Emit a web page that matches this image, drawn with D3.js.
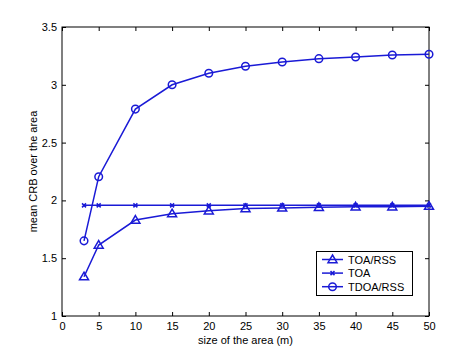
<!DOCTYPE html>
<html><head><meta charset="utf-8">
<script src="https://cdn.jsdelivr.net/npm/d3@7"></script>
<style>body{margin:0;background:#fff}svg{display:block}text{font-family:"Liberation Sans",Arial,sans-serif;fill:#000}</style>
</head><body><svg id="c" width="474" height="355"></svg>
<script>
const xVals = [3, 5, 10, 15, 20, 25, 30, 35, 40, 45, 50];
const toaRss = [1.34, 1.614, 1.83, 1.885, 1.91, 1.93, 1.935, 1.94, 1.945, 1.945, 1.95];
const toa = [1.957, 1.957, 1.957, 1.957, 1.957, 1.957, 1.957, 1.957, 1.957, 1.957, 1.957];
const tdoaRss = [1.65, 2.205, 2.79, 3.0, 3.10, 3.16, 3.197, 3.226, 3.24, 3.258, 3.264];
const xTicks = [0, 5, 10, 15, 20, 25, 30, 35, 40, 45, 50];
const yTicks = [1, 1.5, 2, 2.5, 3, 3.5];
const seriesNames = ["TOA/RSS", "TOA", "TDOA/RSS"];

const svg = d3.select("#c");
const L = 62, R = 429, T = 27, B = 316;
const x = d3.scaleLinear().domain([0, 50]).range([L, R]);
const y = d3.scaleLinear().domain([1, 3.5]).range([B, T]);
const col = "#1a1ad6";
const lw = 1.5;

// box
svg.append("rect").attr("x", L).attr("y", T).attr("width", R - L).attr("height", B - T)
  .attr("fill", "none").attr("stroke", "#000").attr("stroke-width", 1);

// axes
const xa = svg.append("g").attr("transform", `translate(0,${B})`)
  .call(d3.axisBottom(x).tickValues(xTicks).tickSize(-4).tickPadding(6).tickFormat(d3.format("d")));
const xt = svg.append("g").attr("transform", `translate(0,${T})`)
  .call(d3.axisTop(x).tickValues(xTicks).tickSize(-4).tickFormat(""));
const ya = svg.append("g").attr("transform", `translate(${L},0)`)
  .call(d3.axisLeft(y).tickValues(yTicks).tickSize(-4).tickPadding(5).tickFormat(d => d3.format("")(d)));
const yr = svg.append("g").attr("transform", `translate(${R},0)`)
  .call(d3.axisRight(y).tickValues(yTicks).tickSize(-4).tickFormat(""));
[xa, xt, ya, yr].forEach(g => {
  g.select(".domain").remove();
  g.selectAll("line").attr("stroke", "#000");
  g.selectAll("text").attr("font-size", 11).attr("fill", "#000")
    .style("font-family", '"Liberation Sans",Arial,sans-serif');
});

svg.append("text").attr("x", (L + R) / 2).attr("y", 344).attr("text-anchor", "middle")
  .attr("font-size", 11).text("size of the area (m)");
svg.append("text").attr("transform", `translate(37,${(T + B) / 2}) rotate(-90)`)
  .attr("text-anchor", "middle").attr("font-size", 11).text("mean CRB over the area");

const line = d3.line().x(d => x(d[0])).y(d => y(d[1]));
const data = [toaRss, toa, tdoaRss].map(s => xVals.map((v, i) => [v, s[i]]));

function marker(g, type, cx, cy) {
  if (type === 0) {
    const s = 4.5;
    g.append("path").attr("d", `M${cx},${cy - s}L${cx + s},${cy + s * 0.7}L${cx - s},${cy + s * 0.7}Z`)
      .attr("fill", "none").attr("stroke", col).attr("stroke-width", lw);
  } else if (type === 1) {
    const s = 2;
    g.append("path").attr("d", `M${cx - s},${cy - s}L${cx + s},${cy + s}M${cx - s},${cy + s}L${cx + s},${cy - s}`)
      .attr("stroke", col).attr("stroke-width", lw);
  } else {
    g.append("circle").attr("cx", cx).attr("cy", cy).attr("r", 3.8)
      .attr("fill", "none").attr("stroke", col).attr("stroke-width", lw);
  }
}

data.forEach((d, k) => {
  svg.append("path").datum(d).attr("d", line).attr("fill", "none")
    .attr("stroke", col).attr("stroke-width", lw);
  const g = svg.append("g");
  d.forEach(p => marker(g, k, x(p[0]), y(p[1])));
});

// legend
const lg = svg.append("g");
lg.append("rect").attr("x", 316.5).attr("y", 251.5).attr("width", 96).attr("height", 44)
  .attr("fill", "#fff").attr("stroke", "#000").attr("stroke-width", 1);
seriesNames.forEach((n, k) => {
  const cy = 259.5 + k * 13.6;
  lg.append("line").attr("x1", 322).attr("x2", 343).attr("y1", cy).attr("y2", cy)
    .attr("stroke", col).attr("stroke-width", lw);
  marker(lg, k, 332.5, cy);
  lg.append("text").attr("x", 348).attr("y", cy + 4).attr("font-size", 11).text(n);
});
</script></body></html>
